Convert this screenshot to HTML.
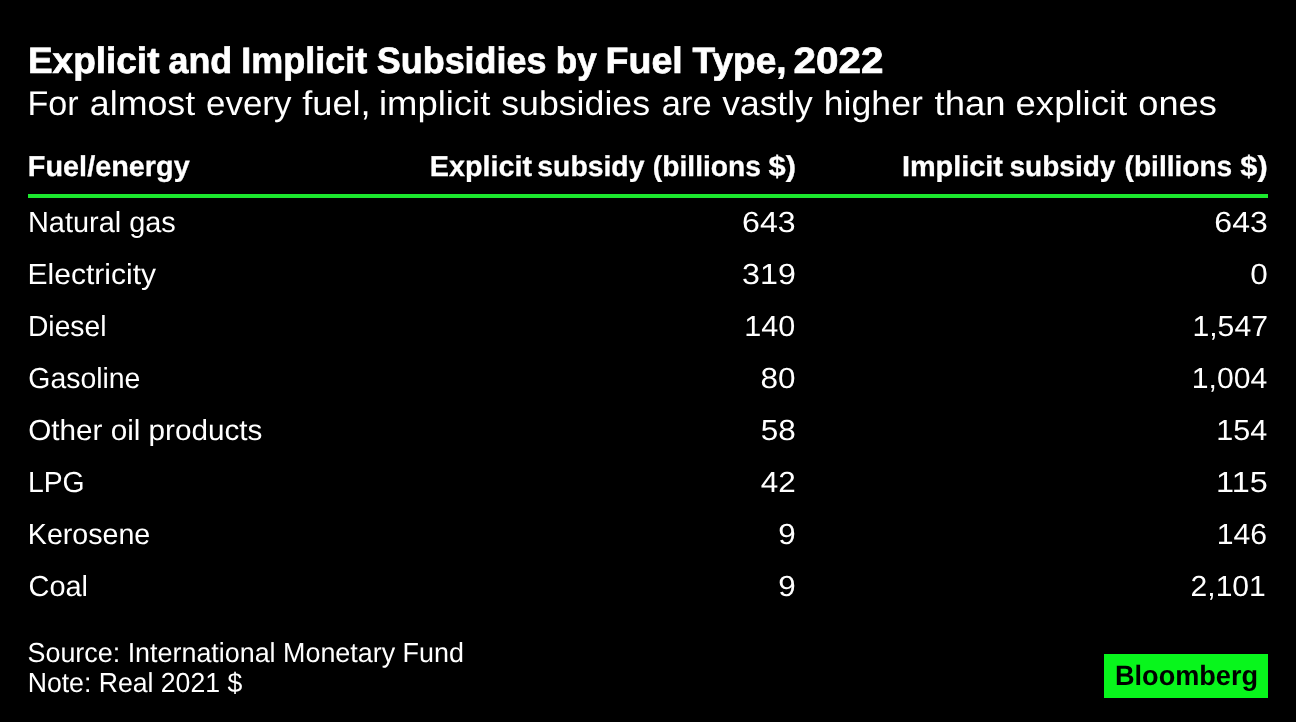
<!DOCTYPE html>
<html><head><meta charset="utf-8"><title>Explicit and Implicit Subsidies by Fuel Type, 2022</title>
<style>
html,body{margin:0;padding:0;background:#000;}
h1,h2,p{margin:0;padding:0;font-size:inherit;font-weight:inherit;}
body{width:1296px;height:722px;position:relative;overflow:hidden;font-family:"Liberation Sans",sans-serif;color:#fff;}
.t{position:absolute;left:0;top:0;text-rendering:geometricPrecision;white-space:nowrap;line-height:1;transform-origin:0 0;}
#rule{position:absolute;left:28px;top:194px;width:1240px;height:4px;background:#1ce82e;}
#logo{position:absolute;left:1104px;top:654px;width:164px;height:44px;background:#08f61c;}
#tw0{font-size:36.7px;font-weight:bold;-webkit-text-stroke:0.7px #fff;transform:translate(27.90px,43.00px) scaleX(1.0082);}
#tw1{font-size:36.7px;font-weight:bold;-webkit-text-stroke:0.7px #fff;transform:translate(168.56px,43.00px) scaleX(0.9763);}
#tw2{font-size:36.7px;font-weight:bold;-webkit-text-stroke:0.7px #fff;transform:translate(241.34px,43.00px) scaleX(0.9803);}
#tw3{font-size:36.7px;font-weight:bold;-webkit-text-stroke:0.7px #fff;transform:translate(376.75px,43.00px) scaleX(0.9797);}
#tw4{font-size:36.7px;font-weight:bold;-webkit-text-stroke:0.7px #fff;transform:translate(555.80px,43.00px) scaleX(0.9556);}
#tw5{font-size:36.7px;font-weight:bold;-webkit-text-stroke:0.7px #fff;transform:translate(605.54px,43.00px) scaleX(1.0240);}
#tw6{font-size:36.7px;font-weight:bold;-webkit-text-stroke:0.7px #fff;transform:translate(692.51px,43.00px) scaleX(1.0106);}
#tw7{font-size:36.7px;font-weight:bold;-webkit-text-stroke:0.7px #fff;transform:translate(793.55px,43.00px) scaleX(1.1023);}
#sw0{font-size:34.3px;transform:translate(27.50px,87.00px) scaleX(0.9929);}
#sw1{font-size:34.3px;transform:translate(89.81px,87.00px) scaleX(1.0432);}
#sw2{font-size:34.3px;transform:translate(206.04px,87.00px) scaleX(1.0184);}
#sw3{font-size:34.3px;transform:translate(302.19px,87.00px) scaleX(1.0563);}
#sw4{font-size:34.3px;transform:translate(378.93px,87.00px) scaleX(1.0629);}
#sw5{font-size:34.3px;transform:translate(501.22px,87.00px) scaleX(1.0406);}
#sw6{font-size:34.3px;transform:translate(661.78px,87.00px) scaleX(1.0045);}
#sw7{font-size:34.3px;transform:translate(722.23px,87.00px) scaleX(1.0330);}
#sw8{font-size:34.3px;transform:translate(823.81px,87.00px) scaleX(1.0383);}
#sw9{font-size:34.3px;transform:translate(934.49px,87.00px) scaleX(1.0643);}
#sw10{font-size:34.3px;transform:translate(1015.54px,87.00px) scaleX(1.0653);}
#sw11{font-size:34.3px;transform:translate(1138.35px,87.00px) scaleX(1.0544);}
#h1{font-size:28.7px;font-weight:bold;-webkit-text-stroke:0.3px #fff;transform:translate(27.87px,153.00px) scaleX(1.0049);}
#h2w0{font-size:28.7px;font-weight:bold;-webkit-text-stroke:0.3px #fff;transform:translate(429.87px,153.00px) scaleX(1.0020);}
#h2w1{font-size:28.7px;font-weight:bold;-webkit-text-stroke:0.3px #fff;transform:translate(537.34px,153.00px) scaleX(0.9879);}
#h2w2{font-size:28.7px;font-weight:bold;-webkit-text-stroke:0.3px #fff;transform:translate(652.87px,153.00px) scaleX(0.9826);}
#h2w3{font-size:28.7px;font-weight:bold;-webkit-text-stroke:0.3px #fff;transform:translate(768.61px,153.00px) scaleX(1.0775);}
#h3w0{font-size:28.7px;font-weight:bold;-webkit-text-stroke:0.3px #fff;transform:translate(901.88px,153.00px) scaleX(1.0065);}
#h3w1{font-size:28.7px;font-weight:bold;-webkit-text-stroke:0.3px #fff;transform:translate(1009.45px,153.00px) scaleX(0.9778);}
#h3w2{font-size:28.7px;font-weight:bold;-webkit-text-stroke:0.3px #fff;transform:translate(1124.58px,153.00px) scaleX(0.9786);}
#h3w3{font-size:28.7px;font-weight:bold;-webkit-text-stroke:0.3px #fff;transform:translate(1240.28px,153.00px) scaleX(1.0739);}
#a0{font-size:29px;transform:translate(28.01px,209.00px) scaleX(0.9961);}
#b0{font-size:29px;transform:translate(742.07px,209.00px) scaleX(1.1067);}
#c0{font-size:29px;transform:translate(1214.34px,209.00px) scaleX(1.1028);}
#a1{font-size:29px;transform:translate(27.59px,261.00px) scaleX(1.0349);}
#b1{font-size:29px;transform:translate(742.12px,261.00px) scaleX(1.1100);}
#c1{font-size:29px;transform:translate(1250.17px,261.00px) scaleX(1.0850);}
#a2{font-size:29px;transform:translate(27.97px,313.00px) scaleX(0.9740);}
#b2{font-size:29px;transform:translate(744.33px,313.00px) scaleX(1.0551);}
#c2{font-size:29px;transform:translate(1192.47px,313.00px) scaleX(1.0400);}
#a3{font-size:29px;transform:translate(28.34px,365.00px) scaleX(0.9791);}
#b3{font-size:29px;transform:translate(760.44px,365.00px) scaleX(1.0850);}
#c3{font-size:29px;transform:translate(1191.73px,365.00px) scaleX(1.0400);}
#a4{font-size:29px;transform:translate(28.14px,417.00px) scaleX(1.0236);}
#b4{font-size:29px;transform:translate(760.73px,417.00px) scaleX(1.0850);}
#c4{font-size:29px;transform:translate(1216.22px,417.00px) scaleX(1.0540);}
#a5{font-size:29px;transform:translate(27.90px,469.00px) scaleX(0.9772);}
#b5{font-size:29px;transform:translate(760.86px,469.00px) scaleX(1.0850);}
#c5{font-size:29px;transform:translate(1216.08px,469.00px) scaleX(1.1176);}
#a6{font-size:29px;transform:translate(27.81px,521.00px) scaleX(0.9859);}
#b6{font-size:29px;transform:translate(778.21px,521.00px) scaleX(1.0850);}
#c6{font-size:29px;transform:translate(1216.67px,521.00px) scaleX(1.0403);}
#a7{font-size:29px;transform:translate(28.52px,573.00px) scaleX(0.9979);}
#b7{font-size:29px;transform:translate(778.21px,573.00px) scaleX(1.0850);}
#c7{font-size:29px;transform:translate(1190.54px,573.00px) scaleX(1.0373);}
#src{font-size:27.5px;transform:translate(27.53px,639.00px) scaleX(0.9775);}
#note{font-size:27.5px;transform:translate(27.70px,669.00px) scaleX(0.9675);}
#lg{font-size:28px;font-weight:bold;color:#000;transform:translate(1115.01px,662.00px) scaleX(0.9674);}
</style></head><body>
<h1><span class="t" id="tw0">Explicit</span> <span class="t" id="tw1">and</span> <span class="t" id="tw2">Implicit</span> <span class="t" id="tw3">Subsidies</span> <span class="t" id="tw4">by</span> <span class="t" id="tw5">Fuel</span> <span class="t" id="tw6">Type,</span> <span class="t" id="tw7">2022</span></h1>
<h2><span class="t" id="sw0">For</span> <span class="t" id="sw1">almost</span> <span class="t" id="sw2">every</span> <span class="t" id="sw3">fuel,</span> <span class="t" id="sw4">implicit</span> <span class="t" id="sw5">subsidies</span> <span class="t" id="sw6">are</span> <span class="t" id="sw7">vastly</span> <span class="t" id="sw8">higher</span> <span class="t" id="sw9">than</span> <span class="t" id="sw10">explicit</span> <span class="t" id="sw11">ones</span></h2>
<div class="thead"><span class="t" id="h1">Fuel/energy</span> <span class="t" id="h2w0">Explicit</span> <span class="t" id="h2w1">subsidy</span> <span class="t" id="h2w2">(billions</span> <span class="t" id="h2w3">$)</span> <span class="t" id="h3w0">Implicit</span> <span class="t" id="h3w1">subsidy</span> <span class="t" id="h3w2">(billions</span> <span class="t" id="h3w3">$)</span></div>
<div id="rule"></div>
<div class="row"><span class="t" id="a0">Natural gas</span> <span class="t" id="b0">643</span> <span class="t" id="c0">643</span></div>
<div class="row"><span class="t" id="a1">Electricity</span> <span class="t" id="b1">319</span> <span class="t" id="c1">0</span></div>
<div class="row"><span class="t" id="a2">Diesel</span> <span class="t" id="b2">140</span> <span class="t" id="c2">1,547</span></div>
<div class="row"><span class="t" id="a3">Gasoline</span> <span class="t" id="b3">80</span> <span class="t" id="c3">1,004</span></div>
<div class="row"><span class="t" id="a4">Other oil products</span> <span class="t" id="b4">58</span> <span class="t" id="c4">154</span></div>
<div class="row"><span class="t" id="a5">LPG</span> <span class="t" id="b5">42</span> <span class="t" id="c5">115</span></div>
<div class="row"><span class="t" id="a6">Kerosene</span> <span class="t" id="b6">9</span> <span class="t" id="c6">146</span></div>
<div class="row"><span class="t" id="a7">Coal</span> <span class="t" id="b7">9</span> <span class="t" id="c7">2,101</span></div>
<p><span class="t" id="src">Source: International Monetary Fund</span></p>
<p><span class="t" id="note">Note: Real 2021 $</span></p>
<div id="logo"></div>
<span class="t" id="lg">Bloomberg</span>
</body></html>
